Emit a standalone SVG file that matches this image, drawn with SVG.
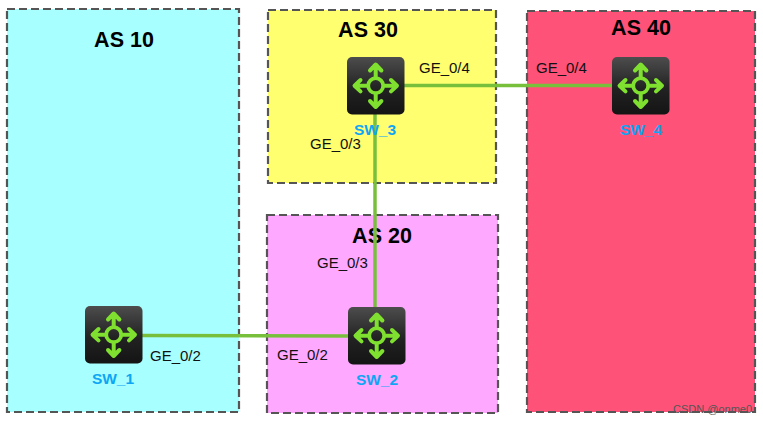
<svg xmlns="http://www.w3.org/2000/svg" width="763" height="424" viewBox="0 0 763 424">
<style>
.as{stroke:#555;stroke-width:2.200;stroke-dasharray:8 4}
.t{font:bold 21.500px "Liberation Sans",Arial,sans-serif;fill:#000;text-anchor:middle}
.n{font:bold 15.500px "Liberation Sans",Arial,sans-serif;fill:#0ea5f5;text-anchor:middle}
.p{font:15px "Liberation Sans",Arial,sans-serif;fill:#111}
.l{stroke:#78c03c;stroke-width:3.500;fill:none}
.g{fill:none;stroke:#7fe030;stroke-width:3.800}
.h{fill:none;stroke:#7fe030;stroke-width:4;stroke-linecap:round;stroke-linejoin:round}
</style>
<defs>
<linearGradient id="bg" x1="0" y1="0" x2="0" y2="1"><stop offset="0" stop-color="#4d4d4d"/><stop offset="0.55" stop-color="#222"/><stop offset="1" stop-color="#141414"/></linearGradient>
<g id="sw">
<rect x="0" y="0" width="57.500" height="57.500" rx="5" fill="url(#bg)"/>
<circle cx="28.700" cy="28.700" r="7.500" class="g"/>
<path class="h" d="M28.700 20V8M23 13.500L28.700 7.500L34.400 13.500M28.700 37.500V50M23 44L28.700 50L34.400 44M20 28.700H8M13.500 23L7.500 28.700L13.500 34.400M37.500 28.700H50M44 23L50 28.700L44 34.400"/>
</g>
</defs>
<rect width="763" height="424" fill="#fff"/>
<g id="as10"><rect class="as" x="7" y="9" width="232" height="403" fill="#a8ffff"/><text class="t" x="124" y="47">AS 10</text></g>
<g id="as30"><rect class="as" x="268" y="10" width="228" height="173" fill="#ffff70"/><text class="t" x="368" y="37">AS 30</text></g>
<g id="as20"><rect class="as" x="267" y="215" width="231" height="198" fill="#ffa8ff"/><text class="t" x="382" y="243">AS 20</text></g>
<g id="as40"><rect class="as" x="527" y="11" width="228" height="401" fill="#ff5278"/><text class="t" x="641" y="35">AS 40</text></g>
<g id="connectors">
<path class="l" d="M375 114V336"/>
<path class="l" d="M142 335.500L348 336"/>
<path class="l" d="M404 85.500H612"/>
</g>
<g id="sw1"><use href="#sw" x="85" y="306"/><text class="n" x="113" y="384">SW_1</text></g>
<g id="sw2"><use href="#sw" x="348" y="307"/><text class="n" x="377" y="385">SW_2</text></g>
<g id="sw3"><use href="#sw" x="347" y="57"/><text class="n" x="375" y="135">SW_3</text></g>
<g id="sw4"><use href="#sw" x="612" y="57"/><text class="n" x="641" y="135">SW_4</text></g>
<g id="labels">
<text class="p" x="419" y="73">GE_0/4</text>
<text class="p" x="536" y="73">GE_0/4</text>
<text class="p" x="310" y="149">GE_0/3</text>
<text class="p" x="317" y="268">GE_0/3</text>
<text class="p" x="150" y="361">GE_0/2</text>
<text class="p" x="277" y="360">GE_0/2</text>
</g>
<text x="673" y="413" font-family="Liberation Sans,Arial,sans-serif" font-size="11" fill="#555">CSDN @onme0</text>
</svg>
